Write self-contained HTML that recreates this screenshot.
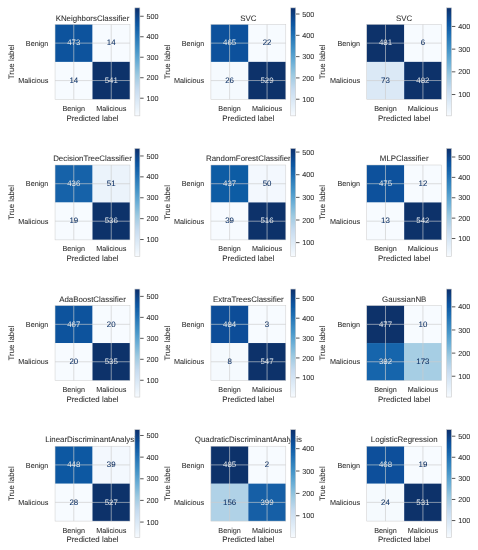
<!DOCTYPE html>
<html><head><meta charset="utf-8"><title>Confusion matrices</title>
<style>html,body{margin:0;padding:0;background:#fff}svg{display:block}text{font-family:"Liberation Sans",Arial,sans-serif;text-rendering:geometricPrecision;stroke-width:0.06px;stroke:#2e2e2e}</style></head><body>
<svg width="478" height="550" viewBox="0 0 478 550">
<defs>
<linearGradient id="bl" x1="0" y1="0" x2="0" y2="1"><stop offset="0.0000" stop-color="#08306b"/><stop offset="0.0312" stop-color="#083776"/><stop offset="0.0625" stop-color="#084082"/><stop offset="0.0938" stop-color="#08488e"/><stop offset="0.1250" stop-color="#08509b"/><stop offset="0.1562" stop-color="#0e58a2"/><stop offset="0.1875" stop-color="#1460a8"/><stop offset="0.2188" stop-color="#1a68ae"/><stop offset="0.2500" stop-color="#2070b4"/><stop offset="0.2812" stop-color="#2979b9"/><stop offset="0.3125" stop-color="#3181bd"/><stop offset="0.3438" stop-color="#3989c1"/><stop offset="0.3750" stop-color="#4191c6"/><stop offset="0.4062" stop-color="#4b98ca"/><stop offset="0.4375" stop-color="#56a0ce"/><stop offset="0.4688" stop-color="#60a7d2"/><stop offset="0.5000" stop-color="#6aaed6"/><stop offset="0.5312" stop-color="#77b5d9"/><stop offset="0.5625" stop-color="#84bcdb"/><stop offset="0.5938" stop-color="#91c3de"/><stop offset="0.6250" stop-color="#9dcae1"/><stop offset="0.6562" stop-color="#a8cee4"/><stop offset="0.6875" stop-color="#b2d2e8"/><stop offset="0.7188" stop-color="#bcd7eb"/><stop offset="0.7500" stop-color="#c6dbef"/><stop offset="0.7812" stop-color="#ccdff1"/><stop offset="0.8125" stop-color="#d2e3f3"/><stop offset="0.8438" stop-color="#d8e7f5"/><stop offset="0.8750" stop-color="#deebf7"/><stop offset="0.9062" stop-color="#e4eff9"/><stop offset="0.9375" stop-color="#eaf3fb"/><stop offset="0.9688" stop-color="#f1f7fd"/><stop offset="1.0000" stop-color="#f7fbff"/></linearGradient>
<filter id="soft" x="0" y="0" width="478" height="550" filterUnits="userSpaceOnUse"><feGaussianBlur stdDeviation="0.45"/></filter>
</defs>
<rect width="478" height="550" fill="#ffffff"/>
<g id="fig" filter="url(#soft)">
<g>
<text x="92.50" y="20.50" font-size="7.90" fill="#2e2e2e" text-anchor="middle">KNeighborsClassifier</text>
<rect x="55.05" y="24.40" width="37.65" height="37.65" fill="#09529d"/>
<rect x="92.50" y="24.40" width="37.45" height="37.65" fill="#f7fbff"/>
<rect x="55.05" y="61.85" width="37.65" height="37.45" fill="#f7fbff"/>
<rect x="92.50" y="61.85" width="37.45" height="37.45" fill="#08306b"/>
<line x1="73.78" y1="24.40" x2="73.78" y2="99.30" stroke="#cccccc" stroke-width="0.66"/>
<line x1="55.05" y1="43.12" x2="129.95" y2="43.12" stroke="#cccccc" stroke-width="0.66"/>
<line x1="111.22" y1="24.40" x2="111.22" y2="99.30" stroke="#cccccc" stroke-width="0.66"/>
<line x1="55.05" y1="80.58" x2="129.95" y2="80.58" stroke="#cccccc" stroke-width="0.66"/>
<rect x="55.05" y="24.40" width="74.90" height="74.90" fill="none" stroke="#cccccc" stroke-width="0.5"/>
<text x="73.78" y="45.38" font-size="7.90" fill="#f7fbff" stroke="#f7fbff" text-anchor="middle">473</text>
<text x="111.23" y="45.38" font-size="7.90" fill="#08306b" stroke="#08306b" text-anchor="middle">14</text>
<text x="73.78" y="82.83" font-size="7.90" fill="#08306b" stroke="#08306b" text-anchor="middle">14</text>
<text x="111.23" y="82.83" font-size="7.90" fill="#f7fbff" stroke="#f7fbff" text-anchor="middle">541</text>
<text x="48.35" y="45.73" font-size="7.24" fill="#2e2e2e" text-anchor="end">Benign</text>
<text x="73.78" y="110.70" font-size="7.24" fill="#2e2e2e" text-anchor="middle">Benign</text>
<text x="48.35" y="83.17" font-size="7.24" fill="#2e2e2e" text-anchor="end">Malicious</text>
<text x="111.23" y="110.70" font-size="7.24" fill="#2e2e2e" text-anchor="middle">Malicious</text>
<text x="92.50" y="120.60" font-size="7.90" fill="#2e2e2e" text-anchor="middle">Predicted label</text>
<text transform="translate(13.65,61.85) rotate(-90)" font-size="7.90" fill="#2e2e2e" text-anchor="middle">True label</text>
<rect x="134.85" y="7.85" width="5.00" height="108.00" fill="url(#bl)" stroke="#cccccc" stroke-width="0.6"/>
<line x1="140.15" y1="98.23" x2="143.65" y2="98.23" stroke="#2e2e2e" stroke-width="0.8"/>
<text x="146.45" y="100.83" font-size="7.24" fill="#2e2e2e">100</text>
<line x1="140.15" y1="77.73" x2="143.65" y2="77.73" stroke="#2e2e2e" stroke-width="0.8"/>
<text x="146.45" y="80.33" font-size="7.24" fill="#2e2e2e">200</text>
<line x1="140.15" y1="57.24" x2="143.65" y2="57.24" stroke="#2e2e2e" stroke-width="0.8"/>
<text x="146.45" y="59.84" font-size="7.24" fill="#2e2e2e">300</text>
<line x1="140.15" y1="36.75" x2="143.65" y2="36.75" stroke="#2e2e2e" stroke-width="0.8"/>
<text x="146.45" y="39.35" font-size="7.24" fill="#2e2e2e">400</text>
<line x1="140.15" y1="16.25" x2="143.65" y2="16.25" stroke="#2e2e2e" stroke-width="0.8"/>
<text x="146.45" y="18.85" font-size="7.24" fill="#2e2e2e">500</text>
</g>
<g>
<text x="248.35" y="20.50" font-size="7.90" fill="#2e2e2e" text-anchor="middle">SVC</text>
<rect x="210.90" y="24.40" width="37.65" height="37.65" fill="#08519c"/>
<rect x="248.35" y="24.40" width="37.45" height="37.65" fill="#f7fbff"/>
<rect x="210.90" y="61.85" width="37.65" height="37.45" fill="#f5fafe"/>
<rect x="248.35" y="61.85" width="37.45" height="37.45" fill="#08306b"/>
<line x1="229.62" y1="24.40" x2="229.62" y2="99.30" stroke="#cccccc" stroke-width="0.66"/>
<line x1="210.90" y1="43.12" x2="285.80" y2="43.12" stroke="#cccccc" stroke-width="0.66"/>
<line x1="267.07" y1="24.40" x2="267.07" y2="99.30" stroke="#cccccc" stroke-width="0.66"/>
<line x1="210.90" y1="80.58" x2="285.80" y2="80.58" stroke="#cccccc" stroke-width="0.66"/>
<rect x="210.90" y="24.40" width="74.90" height="74.90" fill="none" stroke="#cccccc" stroke-width="0.5"/>
<text x="229.62" y="45.38" font-size="7.90" fill="#f7fbff" stroke="#f7fbff" text-anchor="middle">465</text>
<text x="267.07" y="45.38" font-size="7.90" fill="#08306b" stroke="#08306b" text-anchor="middle">22</text>
<text x="229.62" y="82.83" font-size="7.90" fill="#08306b" stroke="#08306b" text-anchor="middle">26</text>
<text x="267.07" y="82.83" font-size="7.90" fill="#f7fbff" stroke="#f7fbff" text-anchor="middle">529</text>
<text x="204.20" y="45.73" font-size="7.24" fill="#2e2e2e" text-anchor="end">Benign</text>
<text x="229.62" y="110.70" font-size="7.24" fill="#2e2e2e" text-anchor="middle">Benign</text>
<text x="204.20" y="83.17" font-size="7.24" fill="#2e2e2e" text-anchor="end">Malicious</text>
<text x="267.07" y="110.70" font-size="7.24" fill="#2e2e2e" text-anchor="middle">Malicious</text>
<text x="248.35" y="120.60" font-size="7.90" fill="#2e2e2e" text-anchor="middle">Predicted label</text>
<text transform="translate(169.50,61.85) rotate(-90)" font-size="7.90" fill="#2e2e2e" text-anchor="middle">True label</text>
<rect x="290.70" y="7.85" width="5.00" height="108.00" fill="url(#bl)" stroke="#cccccc" stroke-width="0.6"/>
<line x1="296.00" y1="99.23" x2="299.50" y2="99.23" stroke="#2e2e2e" stroke-width="0.8"/>
<text x="302.30" y="101.83" font-size="7.24" fill="#2e2e2e">100</text>
<line x1="296.00" y1="77.93" x2="299.50" y2="77.93" stroke="#2e2e2e" stroke-width="0.8"/>
<text x="302.30" y="80.53" font-size="7.24" fill="#2e2e2e">200</text>
<line x1="296.00" y1="56.63" x2="299.50" y2="56.63" stroke="#2e2e2e" stroke-width="0.8"/>
<text x="302.30" y="59.23" font-size="7.24" fill="#2e2e2e">300</text>
<line x1="296.00" y1="35.33" x2="299.50" y2="35.33" stroke="#2e2e2e" stroke-width="0.8"/>
<text x="302.30" y="37.93" font-size="7.24" fill="#2e2e2e">400</text>
<line x1="296.00" y1="14.03" x2="299.50" y2="14.03" stroke="#2e2e2e" stroke-width="0.8"/>
<text x="302.30" y="16.63" font-size="7.24" fill="#2e2e2e">500</text>
</g>
<g>
<text x="404.20" y="20.50" font-size="7.90" fill="#2e2e2e" text-anchor="middle">SVC</text>
<rect x="366.75" y="24.40" width="37.65" height="37.65" fill="#08306b"/>
<rect x="404.20" y="24.40" width="37.45" height="37.65" fill="#f7fbff"/>
<rect x="366.75" y="61.85" width="37.65" height="37.45" fill="#dbe9f6"/>
<rect x="404.20" y="61.85" width="37.45" height="37.45" fill="#08306b"/>
<line x1="385.48" y1="24.40" x2="385.48" y2="99.30" stroke="#cccccc" stroke-width="0.66"/>
<line x1="366.75" y1="43.12" x2="441.65" y2="43.12" stroke="#cccccc" stroke-width="0.66"/>
<line x1="422.93" y1="24.40" x2="422.93" y2="99.30" stroke="#cccccc" stroke-width="0.66"/>
<line x1="366.75" y1="80.58" x2="441.65" y2="80.58" stroke="#cccccc" stroke-width="0.66"/>
<rect x="366.75" y="24.40" width="74.90" height="74.90" fill="none" stroke="#cccccc" stroke-width="0.5"/>
<text x="385.48" y="45.38" font-size="7.90" fill="#f7fbff" stroke="#f7fbff" text-anchor="middle">481</text>
<text x="422.93" y="45.38" font-size="7.90" fill="#08306b" stroke="#08306b" text-anchor="middle">6</text>
<text x="385.48" y="82.83" font-size="7.90" fill="#08306b" stroke="#08306b" text-anchor="middle">73</text>
<text x="422.93" y="82.83" font-size="7.90" fill="#f7fbff" stroke="#f7fbff" text-anchor="middle">482</text>
<text x="360.05" y="45.73" font-size="7.24" fill="#2e2e2e" text-anchor="end">Benign</text>
<text x="385.48" y="110.70" font-size="7.24" fill="#2e2e2e" text-anchor="middle">Benign</text>
<text x="360.05" y="83.17" font-size="7.24" fill="#2e2e2e" text-anchor="end">Malicious</text>
<text x="422.93" y="110.70" font-size="7.24" fill="#2e2e2e" text-anchor="middle">Malicious</text>
<text x="404.20" y="120.60" font-size="7.90" fill="#2e2e2e" text-anchor="middle">Predicted label</text>
<text transform="translate(325.35,61.85) rotate(-90)" font-size="7.90" fill="#2e2e2e" text-anchor="middle">True label</text>
<rect x="446.55" y="7.85" width="5.00" height="108.00" fill="url(#bl)" stroke="#cccccc" stroke-width="0.6"/>
<line x1="451.85" y1="94.52" x2="455.35" y2="94.52" stroke="#2e2e2e" stroke-width="0.8"/>
<text x="458.15" y="97.12" font-size="7.24" fill="#2e2e2e">100</text>
<line x1="451.85" y1="71.83" x2="455.35" y2="71.83" stroke="#2e2e2e" stroke-width="0.8"/>
<text x="458.15" y="74.43" font-size="7.24" fill="#2e2e2e">200</text>
<line x1="451.85" y1="49.14" x2="455.35" y2="49.14" stroke="#2e2e2e" stroke-width="0.8"/>
<text x="458.15" y="51.74" font-size="7.24" fill="#2e2e2e">300</text>
<line x1="451.85" y1="26.46" x2="455.35" y2="26.46" stroke="#2e2e2e" stroke-width="0.8"/>
<text x="458.15" y="29.06" font-size="7.24" fill="#2e2e2e">400</text>
</g>
<g>
<text x="92.50" y="161.10" font-size="7.90" fill="#2e2e2e" text-anchor="middle">DecisionTreeClassifier</text>
<rect x="55.05" y="165.00" width="37.65" height="37.65" fill="#1562a9"/>
<rect x="92.50" y="165.00" width="37.45" height="37.65" fill="#ebf3fb"/>
<rect x="55.05" y="202.45" width="37.65" height="37.45" fill="#f7fbff"/>
<rect x="92.50" y="202.45" width="37.45" height="37.45" fill="#08306b"/>
<line x1="73.78" y1="165.00" x2="73.78" y2="239.90" stroke="#cccccc" stroke-width="0.66"/>
<line x1="55.05" y1="183.72" x2="129.95" y2="183.72" stroke="#cccccc" stroke-width="0.66"/>
<line x1="111.22" y1="165.00" x2="111.22" y2="239.90" stroke="#cccccc" stroke-width="0.66"/>
<line x1="55.05" y1="221.18" x2="129.95" y2="221.18" stroke="#cccccc" stroke-width="0.66"/>
<rect x="55.05" y="165.00" width="74.90" height="74.90" fill="none" stroke="#cccccc" stroke-width="0.5"/>
<text x="73.78" y="185.97" font-size="7.90" fill="#f7fbff" stroke="#f7fbff" text-anchor="middle">436</text>
<text x="111.23" y="185.97" font-size="7.90" fill="#08306b" stroke="#08306b" text-anchor="middle">51</text>
<text x="73.78" y="223.43" font-size="7.90" fill="#08306b" stroke="#08306b" text-anchor="middle">19</text>
<text x="111.23" y="223.43" font-size="7.90" fill="#f7fbff" stroke="#f7fbff" text-anchor="middle">536</text>
<text x="48.35" y="186.32" font-size="7.24" fill="#2e2e2e" text-anchor="end">Benign</text>
<text x="73.78" y="251.30" font-size="7.24" fill="#2e2e2e" text-anchor="middle">Benign</text>
<text x="48.35" y="223.78" font-size="7.24" fill="#2e2e2e" text-anchor="end">Malicious</text>
<text x="111.23" y="251.30" font-size="7.24" fill="#2e2e2e" text-anchor="middle">Malicious</text>
<text x="92.50" y="261.20" font-size="7.90" fill="#2e2e2e" text-anchor="middle">Predicted label</text>
<text transform="translate(13.65,202.45) rotate(-90)" font-size="7.90" fill="#2e2e2e" text-anchor="middle">True label</text>
<rect x="134.85" y="148.45" width="5.00" height="108.00" fill="url(#bl)" stroke="#cccccc" stroke-width="0.6"/>
<line x1="140.15" y1="239.53" x2="143.65" y2="239.53" stroke="#2e2e2e" stroke-width="0.8"/>
<text x="146.45" y="242.13" font-size="7.24" fill="#2e2e2e">100</text>
<line x1="140.15" y1="218.64" x2="143.65" y2="218.64" stroke="#2e2e2e" stroke-width="0.8"/>
<text x="146.45" y="221.24" font-size="7.24" fill="#2e2e2e">200</text>
<line x1="140.15" y1="197.75" x2="143.65" y2="197.75" stroke="#2e2e2e" stroke-width="0.8"/>
<text x="146.45" y="200.35" font-size="7.24" fill="#2e2e2e">300</text>
<line x1="140.15" y1="176.86" x2="143.65" y2="176.86" stroke="#2e2e2e" stroke-width="0.8"/>
<text x="146.45" y="179.46" font-size="7.24" fill="#2e2e2e">400</text>
<line x1="140.15" y1="155.97" x2="143.65" y2="155.97" stroke="#2e2e2e" stroke-width="0.8"/>
<text x="146.45" y="158.57" font-size="7.24" fill="#2e2e2e">500</text>
</g>
<g>
<text x="248.35" y="161.10" font-size="7.90" fill="#2e2e2e" text-anchor="middle">RandomForestClassifier</text>
<rect x="210.90" y="165.00" width="37.65" height="37.65" fill="#105ba4"/>
<rect x="248.35" y="165.00" width="37.45" height="37.65" fill="#f3f8fe"/>
<rect x="210.90" y="202.45" width="37.65" height="37.45" fill="#f7fbff"/>
<rect x="248.35" y="202.45" width="37.45" height="37.45" fill="#08306b"/>
<line x1="229.62" y1="165.00" x2="229.62" y2="239.90" stroke="#cccccc" stroke-width="0.66"/>
<line x1="210.90" y1="183.72" x2="285.80" y2="183.72" stroke="#cccccc" stroke-width="0.66"/>
<line x1="267.07" y1="165.00" x2="267.07" y2="239.90" stroke="#cccccc" stroke-width="0.66"/>
<line x1="210.90" y1="221.18" x2="285.80" y2="221.18" stroke="#cccccc" stroke-width="0.66"/>
<rect x="210.90" y="165.00" width="74.90" height="74.90" fill="none" stroke="#cccccc" stroke-width="0.5"/>
<text x="229.62" y="185.97" font-size="7.90" fill="#f7fbff" stroke="#f7fbff" text-anchor="middle">437</text>
<text x="267.07" y="185.97" font-size="7.90" fill="#08306b" stroke="#08306b" text-anchor="middle">50</text>
<text x="229.62" y="223.43" font-size="7.90" fill="#08306b" stroke="#08306b" text-anchor="middle">39</text>
<text x="267.07" y="223.43" font-size="7.90" fill="#f7fbff" stroke="#f7fbff" text-anchor="middle">516</text>
<text x="204.20" y="186.32" font-size="7.24" fill="#2e2e2e" text-anchor="end">Benign</text>
<text x="229.62" y="251.30" font-size="7.24" fill="#2e2e2e" text-anchor="middle">Benign</text>
<text x="204.20" y="223.78" font-size="7.24" fill="#2e2e2e" text-anchor="end">Malicious</text>
<text x="267.07" y="251.30" font-size="7.24" fill="#2e2e2e" text-anchor="middle">Malicious</text>
<text x="248.35" y="261.20" font-size="7.90" fill="#2e2e2e" text-anchor="middle">Predicted label</text>
<text transform="translate(169.50,202.45) rotate(-90)" font-size="7.90" fill="#2e2e2e" text-anchor="middle">True label</text>
<rect x="290.70" y="148.45" width="5.00" height="108.00" fill="url(#bl)" stroke="#cccccc" stroke-width="0.6"/>
<line x1="296.00" y1="242.64" x2="299.50" y2="242.64" stroke="#2e2e2e" stroke-width="0.8"/>
<text x="302.30" y="245.24" font-size="7.24" fill="#2e2e2e">100</text>
<line x1="296.00" y1="220.00" x2="299.50" y2="220.00" stroke="#2e2e2e" stroke-width="0.8"/>
<text x="302.30" y="222.60" font-size="7.24" fill="#2e2e2e">200</text>
<line x1="296.00" y1="197.36" x2="299.50" y2="197.36" stroke="#2e2e2e" stroke-width="0.8"/>
<text x="302.30" y="199.96" font-size="7.24" fill="#2e2e2e">300</text>
<line x1="296.00" y1="174.71" x2="299.50" y2="174.71" stroke="#2e2e2e" stroke-width="0.8"/>
<text x="302.30" y="177.31" font-size="7.24" fill="#2e2e2e">400</text>
<line x1="296.00" y1="152.07" x2="299.50" y2="152.07" stroke="#2e2e2e" stroke-width="0.8"/>
<text x="302.30" y="154.67" font-size="7.24" fill="#2e2e2e">500</text>
</g>
<g>
<text x="404.20" y="161.10" font-size="7.90" fill="#2e2e2e" text-anchor="middle">MLPClassifier</text>
<rect x="366.75" y="165.00" width="37.65" height="37.65" fill="#08519c"/>
<rect x="404.20" y="165.00" width="37.45" height="37.65" fill="#f7fbff"/>
<rect x="366.75" y="202.45" width="37.65" height="37.45" fill="#f7fbff"/>
<rect x="404.20" y="202.45" width="37.45" height="37.45" fill="#08306b"/>
<line x1="385.48" y1="165.00" x2="385.48" y2="239.90" stroke="#cccccc" stroke-width="0.66"/>
<line x1="366.75" y1="183.72" x2="441.65" y2="183.72" stroke="#cccccc" stroke-width="0.66"/>
<line x1="422.93" y1="165.00" x2="422.93" y2="239.90" stroke="#cccccc" stroke-width="0.66"/>
<line x1="366.75" y1="221.18" x2="441.65" y2="221.18" stroke="#cccccc" stroke-width="0.66"/>
<rect x="366.75" y="165.00" width="74.90" height="74.90" fill="none" stroke="#cccccc" stroke-width="0.5"/>
<text x="385.48" y="185.97" font-size="7.90" fill="#f7fbff" stroke="#f7fbff" text-anchor="middle">475</text>
<text x="422.93" y="185.97" font-size="7.90" fill="#08306b" stroke="#08306b" text-anchor="middle">12</text>
<text x="385.48" y="223.43" font-size="7.90" fill="#08306b" stroke="#08306b" text-anchor="middle">13</text>
<text x="422.93" y="223.43" font-size="7.90" fill="#f7fbff" stroke="#f7fbff" text-anchor="middle">542</text>
<text x="360.05" y="186.32" font-size="7.24" fill="#2e2e2e" text-anchor="end">Benign</text>
<text x="385.48" y="251.30" font-size="7.24" fill="#2e2e2e" text-anchor="middle">Benign</text>
<text x="360.05" y="223.78" font-size="7.24" fill="#2e2e2e" text-anchor="end">Malicious</text>
<text x="422.93" y="251.30" font-size="7.24" fill="#2e2e2e" text-anchor="middle">Malicious</text>
<text x="404.20" y="261.20" font-size="7.90" fill="#2e2e2e" text-anchor="middle">Predicted label</text>
<text transform="translate(325.35,202.45) rotate(-90)" font-size="7.90" fill="#2e2e2e" text-anchor="middle">True label</text>
<rect x="446.55" y="148.45" width="5.00" height="108.00" fill="url(#bl)" stroke="#cccccc" stroke-width="0.6"/>
<line x1="451.85" y1="238.52" x2="455.35" y2="238.52" stroke="#2e2e2e" stroke-width="0.8"/>
<text x="458.15" y="241.12" font-size="7.24" fill="#2e2e2e">100</text>
<line x1="451.85" y1="218.14" x2="455.35" y2="218.14" stroke="#2e2e2e" stroke-width="0.8"/>
<text x="458.15" y="220.74" font-size="7.24" fill="#2e2e2e">200</text>
<line x1="451.85" y1="197.76" x2="455.35" y2="197.76" stroke="#2e2e2e" stroke-width="0.8"/>
<text x="458.15" y="200.36" font-size="7.24" fill="#2e2e2e">300</text>
<line x1="451.85" y1="177.39" x2="455.35" y2="177.39" stroke="#2e2e2e" stroke-width="0.8"/>
<text x="458.15" y="179.99" font-size="7.24" fill="#2e2e2e">400</text>
<line x1="451.85" y1="157.01" x2="455.35" y2="157.01" stroke="#2e2e2e" stroke-width="0.8"/>
<text x="458.15" y="159.61" font-size="7.24" fill="#2e2e2e">500</text>
</g>
<g>
<text x="92.50" y="301.70" font-size="7.90" fill="#2e2e2e" text-anchor="middle">AdaBoostClassifier</text>
<rect x="55.05" y="305.60" width="37.65" height="37.65" fill="#09529d"/>
<rect x="92.50" y="305.60" width="37.45" height="37.65" fill="#f7fbff"/>
<rect x="55.05" y="343.05" width="37.65" height="37.45" fill="#f7fbff"/>
<rect x="92.50" y="343.05" width="37.45" height="37.45" fill="#08306b"/>
<line x1="73.78" y1="305.60" x2="73.78" y2="380.50" stroke="#cccccc" stroke-width="0.66"/>
<line x1="55.05" y1="324.32" x2="129.95" y2="324.32" stroke="#cccccc" stroke-width="0.66"/>
<line x1="111.22" y1="305.60" x2="111.22" y2="380.50" stroke="#cccccc" stroke-width="0.66"/>
<line x1="55.05" y1="361.77" x2="129.95" y2="361.77" stroke="#cccccc" stroke-width="0.66"/>
<rect x="55.05" y="305.60" width="74.90" height="74.90" fill="none" stroke="#cccccc" stroke-width="0.5"/>
<text x="73.78" y="326.57" font-size="7.90" fill="#f7fbff" stroke="#f7fbff" text-anchor="middle">467</text>
<text x="111.23" y="326.57" font-size="7.90" fill="#08306b" stroke="#08306b" text-anchor="middle">20</text>
<text x="73.78" y="364.02" font-size="7.90" fill="#08306b" stroke="#08306b" text-anchor="middle">20</text>
<text x="111.23" y="364.02" font-size="7.90" fill="#f7fbff" stroke="#f7fbff" text-anchor="middle">535</text>
<text x="48.35" y="326.93" font-size="7.24" fill="#2e2e2e" text-anchor="end">Benign</text>
<text x="73.78" y="391.90" font-size="7.24" fill="#2e2e2e" text-anchor="middle">Benign</text>
<text x="48.35" y="364.38" font-size="7.24" fill="#2e2e2e" text-anchor="end">Malicious</text>
<text x="111.23" y="391.90" font-size="7.24" fill="#2e2e2e" text-anchor="middle">Malicious</text>
<text x="92.50" y="401.80" font-size="7.90" fill="#2e2e2e" text-anchor="middle">Predicted label</text>
<text transform="translate(13.65,343.05) rotate(-90)" font-size="7.90" fill="#2e2e2e" text-anchor="middle">True label</text>
<rect x="134.85" y="289.05" width="5.00" height="108.00" fill="url(#bl)" stroke="#cccccc" stroke-width="0.6"/>
<line x1="140.15" y1="380.27" x2="143.65" y2="380.27" stroke="#2e2e2e" stroke-width="0.8"/>
<text x="146.45" y="382.87" font-size="7.24" fill="#2e2e2e">100</text>
<line x1="140.15" y1="359.30" x2="143.65" y2="359.30" stroke="#2e2e2e" stroke-width="0.8"/>
<text x="146.45" y="361.90" font-size="7.24" fill="#2e2e2e">200</text>
<line x1="140.15" y1="338.33" x2="143.65" y2="338.33" stroke="#2e2e2e" stroke-width="0.8"/>
<text x="146.45" y="340.93" font-size="7.24" fill="#2e2e2e">300</text>
<line x1="140.15" y1="317.36" x2="143.65" y2="317.36" stroke="#2e2e2e" stroke-width="0.8"/>
<text x="146.45" y="319.96" font-size="7.24" fill="#2e2e2e">400</text>
<line x1="140.15" y1="296.39" x2="143.65" y2="296.39" stroke="#2e2e2e" stroke-width="0.8"/>
<text x="146.45" y="298.99" font-size="7.24" fill="#2e2e2e">500</text>
</g>
<g>
<text x="248.35" y="301.70" font-size="7.90" fill="#2e2e2e" text-anchor="middle">ExtraTreesClassifier</text>
<rect x="210.90" y="305.60" width="37.65" height="37.65" fill="#084e98"/>
<rect x="248.35" y="305.60" width="37.45" height="37.65" fill="#f7fbff"/>
<rect x="210.90" y="343.05" width="37.65" height="37.45" fill="#f5fafe"/>
<rect x="248.35" y="343.05" width="37.45" height="37.45" fill="#08306b"/>
<line x1="229.62" y1="305.60" x2="229.62" y2="380.50" stroke="#cccccc" stroke-width="0.66"/>
<line x1="210.90" y1="324.32" x2="285.80" y2="324.32" stroke="#cccccc" stroke-width="0.66"/>
<line x1="267.07" y1="305.60" x2="267.07" y2="380.50" stroke="#cccccc" stroke-width="0.66"/>
<line x1="210.90" y1="361.77" x2="285.80" y2="361.77" stroke="#cccccc" stroke-width="0.66"/>
<rect x="210.90" y="305.60" width="74.90" height="74.90" fill="none" stroke="#cccccc" stroke-width="0.5"/>
<text x="229.62" y="326.57" font-size="7.90" fill="#f7fbff" stroke="#f7fbff" text-anchor="middle">484</text>
<text x="267.07" y="326.57" font-size="7.90" fill="#08306b" stroke="#08306b" text-anchor="middle">3</text>
<text x="229.62" y="364.02" font-size="7.90" fill="#08306b" stroke="#08306b" text-anchor="middle">8</text>
<text x="267.07" y="364.02" font-size="7.90" fill="#f7fbff" stroke="#f7fbff" text-anchor="middle">547</text>
<text x="204.20" y="326.93" font-size="7.24" fill="#2e2e2e" text-anchor="end">Benign</text>
<text x="229.62" y="391.90" font-size="7.24" fill="#2e2e2e" text-anchor="middle">Benign</text>
<text x="204.20" y="364.38" font-size="7.24" fill="#2e2e2e" text-anchor="end">Malicious</text>
<text x="267.07" y="391.90" font-size="7.24" fill="#2e2e2e" text-anchor="middle">Malicious</text>
<text x="248.35" y="401.80" font-size="7.90" fill="#2e2e2e" text-anchor="middle">Predicted label</text>
<text transform="translate(169.50,343.05) rotate(-90)" font-size="7.90" fill="#2e2e2e" text-anchor="middle">True label</text>
<rect x="290.70" y="289.05" width="5.00" height="108.00" fill="url(#bl)" stroke="#cccccc" stroke-width="0.6"/>
<line x1="296.00" y1="377.79" x2="299.50" y2="377.79" stroke="#2e2e2e" stroke-width="0.8"/>
<text x="302.30" y="380.39" font-size="7.24" fill="#2e2e2e">100</text>
<line x1="296.00" y1="357.94" x2="299.50" y2="357.94" stroke="#2e2e2e" stroke-width="0.8"/>
<text x="302.30" y="360.54" font-size="7.24" fill="#2e2e2e">200</text>
<line x1="296.00" y1="338.09" x2="299.50" y2="338.09" stroke="#2e2e2e" stroke-width="0.8"/>
<text x="302.30" y="340.69" font-size="7.24" fill="#2e2e2e">300</text>
<line x1="296.00" y1="318.23" x2="299.50" y2="318.23" stroke="#2e2e2e" stroke-width="0.8"/>
<text x="302.30" y="320.83" font-size="7.24" fill="#2e2e2e">400</text>
<line x1="296.00" y1="298.38" x2="299.50" y2="298.38" stroke="#2e2e2e" stroke-width="0.8"/>
<text x="302.30" y="300.98" font-size="7.24" fill="#2e2e2e">500</text>
</g>
<g>
<text x="404.20" y="301.70" font-size="7.90" fill="#2e2e2e" text-anchor="middle">GaussianNB</text>
<rect x="366.75" y="305.60" width="37.65" height="37.65" fill="#08306b"/>
<rect x="404.20" y="305.60" width="37.45" height="37.65" fill="#f7fbff"/>
<rect x="366.75" y="343.05" width="37.65" height="37.45" fill="#1865ac"/>
<rect x="404.20" y="343.05" width="37.45" height="37.45" fill="#a6cee4"/>
<line x1="385.48" y1="305.60" x2="385.48" y2="380.50" stroke="#cccccc" stroke-width="0.66"/>
<line x1="366.75" y1="324.32" x2="441.65" y2="324.32" stroke="#cccccc" stroke-width="0.66"/>
<line x1="422.93" y1="305.60" x2="422.93" y2="380.50" stroke="#cccccc" stroke-width="0.66"/>
<line x1="366.75" y1="361.77" x2="441.65" y2="361.77" stroke="#cccccc" stroke-width="0.66"/>
<rect x="366.75" y="305.60" width="74.90" height="74.90" fill="none" stroke="#cccccc" stroke-width="0.5"/>
<text x="385.48" y="326.57" font-size="7.90" fill="#f7fbff" stroke="#f7fbff" text-anchor="middle">477</text>
<text x="422.93" y="326.57" font-size="7.90" fill="#08306b" stroke="#08306b" text-anchor="middle">10</text>
<text x="385.48" y="364.02" font-size="7.90" fill="#f7fbff" stroke="#f7fbff" text-anchor="middle">382</text>
<text x="422.93" y="364.02" font-size="7.90" fill="#08306b" stroke="#08306b" text-anchor="middle">173</text>
<text x="360.05" y="326.93" font-size="7.24" fill="#2e2e2e" text-anchor="end">Benign</text>
<text x="385.48" y="391.90" font-size="7.24" fill="#2e2e2e" text-anchor="middle">Benign</text>
<text x="360.05" y="364.38" font-size="7.24" fill="#2e2e2e" text-anchor="end">Malicious</text>
<text x="422.93" y="391.90" font-size="7.24" fill="#2e2e2e" text-anchor="middle">Malicious</text>
<text x="404.20" y="401.80" font-size="7.90" fill="#2e2e2e" text-anchor="middle">Predicted label</text>
<text transform="translate(325.35,343.05) rotate(-90)" font-size="7.90" fill="#2e2e2e" text-anchor="middle">True label</text>
<rect x="446.55" y="289.05" width="5.00" height="108.00" fill="url(#bl)" stroke="#cccccc" stroke-width="0.6"/>
<line x1="451.85" y1="376.24" x2="455.35" y2="376.24" stroke="#2e2e2e" stroke-width="0.8"/>
<text x="458.15" y="378.84" font-size="7.24" fill="#2e2e2e">100</text>
<line x1="451.85" y1="353.11" x2="455.35" y2="353.11" stroke="#2e2e2e" stroke-width="0.8"/>
<text x="458.15" y="355.71" font-size="7.24" fill="#2e2e2e">200</text>
<line x1="451.85" y1="329.98" x2="455.35" y2="329.98" stroke="#2e2e2e" stroke-width="0.8"/>
<text x="458.15" y="332.58" font-size="7.24" fill="#2e2e2e">300</text>
<line x1="451.85" y1="306.86" x2="455.35" y2="306.86" stroke="#2e2e2e" stroke-width="0.8"/>
<text x="458.15" y="309.46" font-size="7.24" fill="#2e2e2e">400</text>
</g>
<g>
<text x="92.50" y="442.30" font-size="7.90" fill="#2e2e2e" text-anchor="middle">LinearDiscriminantAnalysis</text>
<rect x="55.05" y="446.20" width="37.65" height="37.65" fill="#0e59a2"/>
<rect x="92.50" y="446.20" width="37.45" height="37.65" fill="#f3f8fe"/>
<rect x="55.05" y="483.65" width="37.65" height="37.45" fill="#f7fbff"/>
<rect x="92.50" y="483.65" width="37.45" height="37.45" fill="#08306b"/>
<line x1="73.78" y1="446.20" x2="73.78" y2="521.10" stroke="#cccccc" stroke-width="0.66"/>
<line x1="55.05" y1="464.92" x2="129.95" y2="464.92" stroke="#cccccc" stroke-width="0.66"/>
<line x1="111.22" y1="446.20" x2="111.22" y2="521.10" stroke="#cccccc" stroke-width="0.66"/>
<line x1="55.05" y1="502.37" x2="129.95" y2="502.37" stroke="#cccccc" stroke-width="0.66"/>
<rect x="55.05" y="446.20" width="74.90" height="74.90" fill="none" stroke="#cccccc" stroke-width="0.5"/>
<text x="73.78" y="467.17" font-size="7.90" fill="#f7fbff" stroke="#f7fbff" text-anchor="middle">448</text>
<text x="111.23" y="467.17" font-size="7.90" fill="#08306b" stroke="#08306b" text-anchor="middle">39</text>
<text x="73.78" y="504.62" font-size="7.90" fill="#08306b" stroke="#08306b" text-anchor="middle">28</text>
<text x="111.23" y="504.62" font-size="7.90" fill="#f7fbff" stroke="#f7fbff" text-anchor="middle">527</text>
<text x="48.35" y="467.52" font-size="7.24" fill="#2e2e2e" text-anchor="end">Benign</text>
<text x="73.78" y="532.50" font-size="7.24" fill="#2e2e2e" text-anchor="middle">Benign</text>
<text x="48.35" y="504.97" font-size="7.24" fill="#2e2e2e" text-anchor="end">Malicious</text>
<text x="111.23" y="532.50" font-size="7.24" fill="#2e2e2e" text-anchor="middle">Malicious</text>
<text x="92.50" y="542.40" font-size="7.90" fill="#2e2e2e" text-anchor="middle">Predicted label</text>
<text transform="translate(13.65,483.65) rotate(-90)" font-size="7.90" fill="#2e2e2e" text-anchor="middle">True label</text>
<rect x="134.85" y="429.65" width="5.00" height="108.00" fill="url(#bl)" stroke="#cccccc" stroke-width="0.6"/>
<line x1="140.15" y1="522.07" x2="143.65" y2="522.07" stroke="#2e2e2e" stroke-width="0.8"/>
<text x="146.45" y="524.67" font-size="7.24" fill="#2e2e2e">100</text>
<line x1="140.15" y1="500.42" x2="143.65" y2="500.42" stroke="#2e2e2e" stroke-width="0.8"/>
<text x="146.45" y="503.02" font-size="7.24" fill="#2e2e2e">200</text>
<line x1="140.15" y1="478.78" x2="143.65" y2="478.78" stroke="#2e2e2e" stroke-width="0.8"/>
<text x="146.45" y="481.38" font-size="7.24" fill="#2e2e2e">300</text>
<line x1="140.15" y1="457.14" x2="143.65" y2="457.14" stroke="#2e2e2e" stroke-width="0.8"/>
<text x="146.45" y="459.74" font-size="7.24" fill="#2e2e2e">400</text>
<line x1="140.15" y1="435.49" x2="143.65" y2="435.49" stroke="#2e2e2e" stroke-width="0.8"/>
<text x="146.45" y="438.09" font-size="7.24" fill="#2e2e2e">500</text>
</g>
<g>
<text x="248.35" y="442.30" font-size="7.90" fill="#2e2e2e" text-anchor="middle">QuadraticDiscriminantAnalysis</text>
<rect x="210.90" y="446.20" width="37.65" height="37.65" fill="#08306b"/>
<rect x="248.35" y="446.20" width="37.45" height="37.65" fill="#f7fbff"/>
<rect x="210.90" y="483.65" width="37.65" height="37.45" fill="#b0d2e7"/>
<rect x="248.35" y="483.65" width="37.45" height="37.45" fill="#125ea6"/>
<line x1="229.62" y1="446.20" x2="229.62" y2="521.10" stroke="#cccccc" stroke-width="0.66"/>
<line x1="210.90" y1="464.92" x2="285.80" y2="464.92" stroke="#cccccc" stroke-width="0.66"/>
<line x1="267.07" y1="446.20" x2="267.07" y2="521.10" stroke="#cccccc" stroke-width="0.66"/>
<line x1="210.90" y1="502.37" x2="285.80" y2="502.37" stroke="#cccccc" stroke-width="0.66"/>
<rect x="210.90" y="446.20" width="74.90" height="74.90" fill="none" stroke="#cccccc" stroke-width="0.5"/>
<text x="229.62" y="467.17" font-size="7.90" fill="#f7fbff" stroke="#f7fbff" text-anchor="middle">485</text>
<text x="267.07" y="467.17" font-size="7.90" fill="#08306b" stroke="#08306b" text-anchor="middle">2</text>
<text x="229.62" y="504.62" font-size="7.90" fill="#08306b" stroke="#08306b" text-anchor="middle">156</text>
<text x="267.07" y="504.62" font-size="7.90" fill="#f7fbff" stroke="#f7fbff" text-anchor="middle">399</text>
<text x="204.20" y="467.52" font-size="7.24" fill="#2e2e2e" text-anchor="end">Benign</text>
<text x="229.62" y="532.50" font-size="7.24" fill="#2e2e2e" text-anchor="middle">Benign</text>
<text x="204.20" y="504.97" font-size="7.24" fill="#2e2e2e" text-anchor="end">Malicious</text>
<text x="267.07" y="532.50" font-size="7.24" fill="#2e2e2e" text-anchor="middle">Malicious</text>
<text x="248.35" y="542.40" font-size="7.90" fill="#2e2e2e" text-anchor="middle">Predicted label</text>
<text transform="translate(169.50,483.65) rotate(-90)" font-size="7.90" fill="#2e2e2e" text-anchor="middle">True label</text>
<rect x="290.70" y="429.65" width="5.00" height="108.00" fill="url(#bl)" stroke="#cccccc" stroke-width="0.6"/>
<line x1="296.00" y1="515.74" x2="299.50" y2="515.74" stroke="#2e2e2e" stroke-width="0.8"/>
<text x="302.30" y="518.34" font-size="7.24" fill="#2e2e2e">100</text>
<line x1="296.00" y1="493.38" x2="299.50" y2="493.38" stroke="#2e2e2e" stroke-width="0.8"/>
<text x="302.30" y="495.98" font-size="7.24" fill="#2e2e2e">200</text>
<line x1="296.00" y1="471.02" x2="299.50" y2="471.02" stroke="#2e2e2e" stroke-width="0.8"/>
<text x="302.30" y="473.62" font-size="7.24" fill="#2e2e2e">300</text>
<line x1="296.00" y1="448.66" x2="299.50" y2="448.66" stroke="#2e2e2e" stroke-width="0.8"/>
<text x="302.30" y="451.26" font-size="7.24" fill="#2e2e2e">400</text>
</g>
<g>
<text x="404.20" y="442.30" font-size="7.90" fill="#2e2e2e" text-anchor="middle">LogisticRegression</text>
<rect x="366.75" y="446.20" width="37.65" height="37.65" fill="#08509b"/>
<rect x="404.20" y="446.20" width="37.45" height="37.65" fill="#f7fbff"/>
<rect x="366.75" y="483.65" width="37.65" height="37.45" fill="#f5fafe"/>
<rect x="404.20" y="483.65" width="37.45" height="37.45" fill="#08306b"/>
<line x1="385.48" y1="446.20" x2="385.48" y2="521.10" stroke="#cccccc" stroke-width="0.66"/>
<line x1="366.75" y1="464.92" x2="441.65" y2="464.92" stroke="#cccccc" stroke-width="0.66"/>
<line x1="422.93" y1="446.20" x2="422.93" y2="521.10" stroke="#cccccc" stroke-width="0.66"/>
<line x1="366.75" y1="502.37" x2="441.65" y2="502.37" stroke="#cccccc" stroke-width="0.66"/>
<rect x="366.75" y="446.20" width="74.90" height="74.90" fill="none" stroke="#cccccc" stroke-width="0.5"/>
<text x="385.48" y="467.17" font-size="7.90" fill="#f7fbff" stroke="#f7fbff" text-anchor="middle">468</text>
<text x="422.93" y="467.17" font-size="7.90" fill="#08306b" stroke="#08306b" text-anchor="middle">19</text>
<text x="385.48" y="504.62" font-size="7.90" fill="#08306b" stroke="#08306b" text-anchor="middle">24</text>
<text x="422.93" y="504.62" font-size="7.90" fill="#f7fbff" stroke="#f7fbff" text-anchor="middle">531</text>
<text x="360.05" y="467.52" font-size="7.24" fill="#2e2e2e" text-anchor="end">Benign</text>
<text x="385.48" y="532.50" font-size="7.24" fill="#2e2e2e" text-anchor="middle">Benign</text>
<text x="360.05" y="504.97" font-size="7.24" fill="#2e2e2e" text-anchor="end">Malicious</text>
<text x="422.93" y="532.50" font-size="7.24" fill="#2e2e2e" text-anchor="middle">Malicious</text>
<text x="404.20" y="542.40" font-size="7.90" fill="#2e2e2e" text-anchor="middle">Predicted label</text>
<text transform="translate(325.35,483.65) rotate(-90)" font-size="7.90" fill="#2e2e2e" text-anchor="middle">True label</text>
<rect x="446.55" y="429.65" width="5.00" height="108.00" fill="url(#bl)" stroke="#cccccc" stroke-width="0.6"/>
<line x1="451.85" y1="520.56" x2="455.35" y2="520.56" stroke="#2e2e2e" stroke-width="0.8"/>
<text x="458.15" y="523.16" font-size="7.24" fill="#2e2e2e">100</text>
<line x1="451.85" y1="499.47" x2="455.35" y2="499.47" stroke="#2e2e2e" stroke-width="0.8"/>
<text x="458.15" y="502.07" font-size="7.24" fill="#2e2e2e">200</text>
<line x1="451.85" y1="478.38" x2="455.35" y2="478.38" stroke="#2e2e2e" stroke-width="0.8"/>
<text x="458.15" y="480.98" font-size="7.24" fill="#2e2e2e">300</text>
<line x1="451.85" y1="457.28" x2="455.35" y2="457.28" stroke="#2e2e2e" stroke-width="0.8"/>
<text x="458.15" y="459.88" font-size="7.24" fill="#2e2e2e">400</text>
<line x1="451.85" y1="436.19" x2="455.35" y2="436.19" stroke="#2e2e2e" stroke-width="0.8"/>
<text x="458.15" y="438.79" font-size="7.24" fill="#2e2e2e">500</text>
</g>
</g></svg></body></html>
